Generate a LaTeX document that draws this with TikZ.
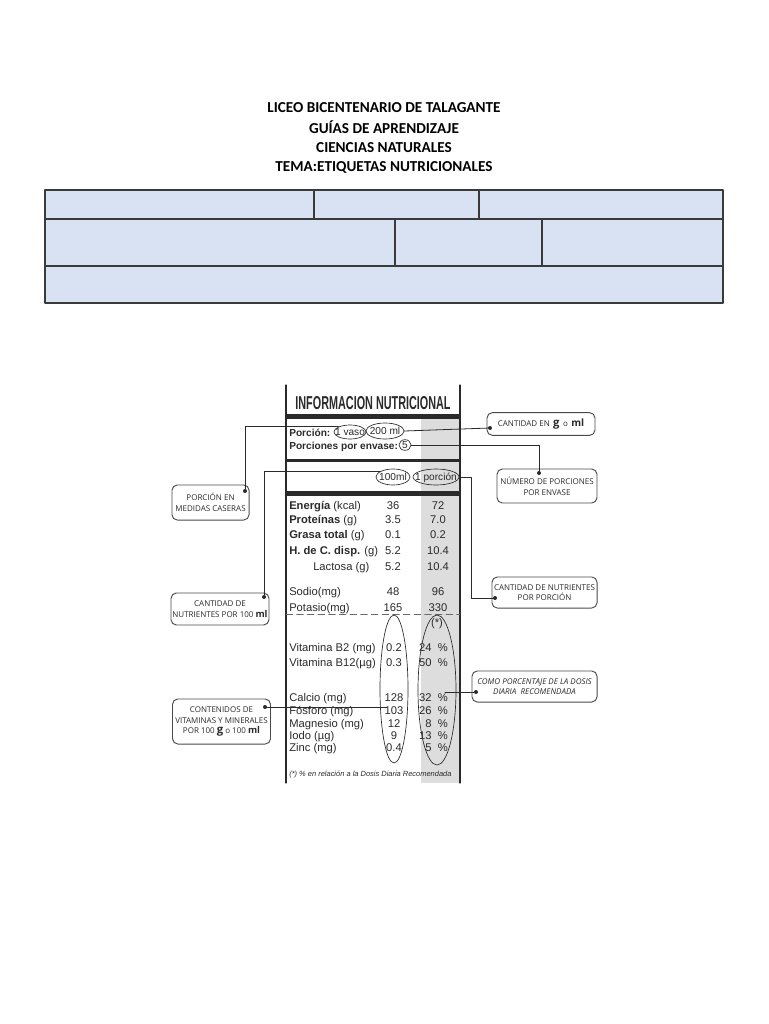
\documentclass[tikz,border=0pt]{standalone}
\usepackage{fontspec}
\setmainfont{Liberation Sans}
\newfontfamily\titlefont{Carlito}
\newfontfamily\notefont{Open Sans}
\usetikzlibrary{shapes.geometric}
\definecolor{cellfill}{HTML}{D9E2F3}
\definecolor{cellline}{HTML}{3A3A3A}
\definecolor{colgray}{HTML}{DDDDDD}
\definecolor{ink}{HTML}{2A2A2A}
\definecolor{boxline}{HTML}{4A4A4A}

\begin{document}
\begin{tikzpicture}[x=0.75pt,y=-0.75pt,line cap=round,line join=round,
    cell/.style={fill=cellfill,draw=cellline,line width=0.9pt},
    head/.style={anchor=base,font=\titlefont\bfseries\fontsize{11.4}{13}\selectfont},
    lbl/.style={inner sep=0pt,text=ink,font=\fontsize{8.4}{9}\selectfont},
    small/.style={inner sep=0pt,text=ink,font=\fontsize{7.6}{8}\selectfont},
    ring/.style={draw=ink,ellipse,inner sep=0pt,line width=0.5pt},
    note/.style={draw=boxline,rounded corners=4pt,line width=0.7pt,fill=white,
      align=center,inner sep=0pt,text=ink,font=\notefont\fontsize{6}{8}\selectfont},
    wire/.style={draw=ink,line width=0.6pt}]

  \useasboundingbox (0,0) rectangle (768,1024);

  % heading
  \node[head] (t1) at (384,113) {LICEO BICENTENARIO DE TALAGANTE};
  \node[head] (t2) at (384,133) {GUÍAS DE APRENDIZAJE};
  \node[head] (t3) at (384,152) {CIENCIAS NATURALES};
  \node[head] (t4) at (384,171) {TEMA:ETIQUETAS NUTRICIONALES};

  % blank form
  \draw[cell] (45,190) rectangle (314,219);
  \draw[cell] (314,190) rectangle (479,219);
  \draw[cell] (479,190) rectangle (723,219);
  \draw[cell] (45,219) rectangle (395,266);
  \draw[cell] (395,219) rectangle (542,266);
  \draw[cell] (542,219) rectangle (723,266);
  \draw[cell] (45,266) rectangle (723,303);

  % label frame
  \fill[colgray] (421,419) rectangle (459,783);
  \draw[ink,line width=0.9pt] (286,385) -- (286,783);
  \draw[ink,line width=0.9pt] (460,385) -- (460,783);
  \fill[ink] (286,414) rectangle (460,419);
  \fill[ink] (286,459) rectangle (460,462);
  \fill[ink] (286,491) rectangle (460,496);
  \draw[ink!70,line width=0.6pt,dash pattern=on 5pt off 3pt] (286,614) -- (460,614);

  \node[inner sep=0pt,text=ink] (title) at (373,403)
    {\fontsize{14}{14}\selectfont\bfseries\scalebox{0.58}[1]{INFORMACION NUTRICIONAL}};

  \node[small,anchor=base west] (porcion) at (289,436.5) {\bfseries Porción:};
  \node[small,anchor=base west] (envase) at (289,449.5) {\bfseries Porciones por envase:};

  % circled figures
  \node[ring,minimum width=24pt,minimum height=10.5pt] (vaso) at (350,432) {};
  \node[ring,minimum width=28.5pt,minimum height=12pt] (ml) at (385,431) {};
  \node[ring,minimum width=9pt,minimum height=8pt] (cinco) at (405,445) {};
  \node[ring,minimum width=25.5pt,minimum height=12pt] (cien) at (393,477) {};
  \node[ring,minimum width=34.5pt,minimum height=12pt] (porc) at (436,477) {};
  \node[small,anchor=base] (vasoT) at (350,435) {1 vaso};
  \node[small,anchor=base] (mlT) at (385,434) {200 ml};
  \node[small,anchor=base] (cincoT) at (405,448) {5};
  \node[small,anchor=base] (cienT) at (393,480) {100ml};
  \node[small,anchor=base] (porcT) at (436,480) {1 porción};

  % nutrient rows
  \foreach \n/\a/\b/\y [count=\i] in {{\bfseries Energía\mdseries{} (kcal)}/36/72/509,
      {\bfseries Proteínas\mdseries{} (g)}/3.5/7.0/523,
      {\bfseries Grasa total\mdseries{} (g)}/0.1/0.2/538,
      {\bfseries H. de C. disp.\mdseries{} (g)}/5.2/10.4/554,
      {\hspace*{18pt}Lactosa (g)}/5.2/10.4/570,
      {Sodio(mg)}/48/96/595,
      {Potasio(mg)}/165/330/611} {
    \node[lbl,anchor=base west] (nm\i) at (289,\y) {\n};
    \node[lbl,anchor=base] (va\i) at (393,\y) {\a};
    \node[lbl,anchor=base] (vb\i) at (438,\y) {\b};
  }

  \node[lbl,anchor=base] (ast) at (437,626) {(*)};
  \node[ring,minimum width=21pt,minimum height=111pt] (vitE) at (394,689) {};
  \node[ring,minimum width=28.5pt,minimum height=112.5pt] (pctE) at (437,690) {};

  % vitamins and minerals
  \foreach \n/\a/\b/\y [count=\i] in {{Vitamina B2 (mg)}/0.2/24/651,
      {Vitamina B12(µg)}/0.3/50/666,
      {Calcio (mg)}/128/32/701,
      {Fósforo (mg)}/103/26/714,
      {Magnesio (mg)}/12/8/727,
      {Iodo (µg)}/9/13/739,
      {Zinc (mg)}/0.4/5/751} {
    \node[lbl,anchor=base west] (mn\i) at (289,\y) {\n};
    \node[lbl,anchor=base] (ma\i) at (394,\y) {\a};
    \node[lbl,anchor=base east] (mb\i) at (448,\y) {\b\ \ \%};
  }

  \node[lbl,anchor=base west] (foot) at (289,776)
    {\fontsize{5.6}{6}\selectfont\itshape (*) \% en relación a la Dosis Diaria Recomendada};

  % callouts
  \node[note,minimum width=57.8pt,minimum height=26.3pt] (cas) at (210.5,502.5)
    {PORCIÓN EN\\MEDIDAS CASERAS};
  \node[note,minimum width=81pt,minimum height=17pt] (gml) at (541,424)
    {CANTIDAD EN \,{\bfseries\fontsize{8.5}{8}\selectfont g}\, o \,{\bfseries\fontsize{7.5}{8}\selectfont ml}};
  \node[note,minimum width=75pt,minimum height=25.5pt] (num) at (547,486)
    {NÚMERO DE PORCIONES\\POR ENVASE};
  \node[note,minimum width=73.5pt,minimum height=24pt] (cpc) at (220,609)
    {CANTIDAD DE\\NUTRIENTES POR 100 {\bfseries\fontsize{7}{7}\selectfont ml}};
  \node[note,minimum width=78.8pt,minimum height=23.3pt] (cpp) at (544.5,592.5)
    {CANTIDAD DE NUTRIENTES\\POR PORCIÓN};
  \node[note,minimum width=93.8pt,minimum height=23.3pt] (pct) at (534.5,686.5)
    {\itshape COMO PORCENTAJE DE LA DOSIS\\\itshape DIARIA \ RECOMENDADA};
  \node[note,minimum width=73.5pt,minimum height=33.8pt] (vit) at (221.5,721.5)
    {CONTENIDOS DE\\VITAMINAS Y MINERALES\\POR 100 {\bfseries\fontsize{8.5}{8}\selectfont g} o 100 {\bfseries\fontsize{7}{7}\selectfont ml}};

  \coordinate (dCas) at (245,491);
  \coordinate (dGml) at (490,428);
  \coordinate (dNum) at (539,473);
  \coordinate (dCpc) at (264,597);
  \coordinate (dCpp) at (495,598);
  \coordinate (dPct) at (476,692);
  \coordinate (dVit) at (265,707);
  \coordinate (pctIn) at (445,692);
  \coordinate (vitIn) at (387,707);

  \draw[wire] (dCas) |- (vaso.north west);
  \draw[wire] (ml.east) -- (dGml);
  \draw[wire] (cinco.east) -| (dNum);
  \draw[wire] (dCpc) |- (cien.north west);
  \draw[wire] (porc.east) -- ++(12,0) |- (dCpp);
  \draw[wire] (dPct) -- (pctIn);
  \draw[wire] (dVit) -- (vitIn);

  \foreach \d in {dCas,dGml,dNum,dCpc,dCpp,dPct,dVit}
    \fill[ink] (\d) circle (1.5pt);

\end{tikzpicture}
\end{document}
